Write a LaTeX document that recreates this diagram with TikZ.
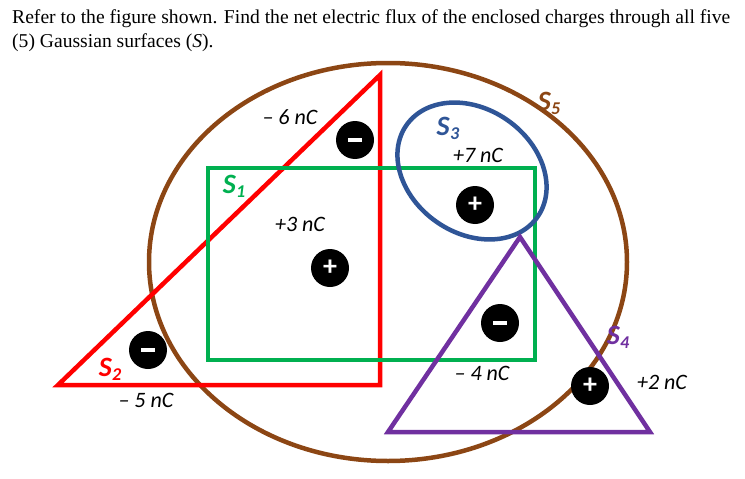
\documentclass[tikz,border=0pt]{standalone}
\usepackage{fontspec}
\setmainfont{Liberation Serif}
\newfontfamily\calfam{Carlito}
\newcommand{\slbl}[2]{\textit{#1}\raisebox{-0.3ex}{\fontsize{18}{18}\selectfont\textit{#2}}}
\begin{document}
\begin{tikzpicture}[x=1pt,y=-1pt,
 chg/.style={circle,fill=black,minimum size=38pt,inner sep=0pt,text=white,font=\calfam\bfseries\fontsize{28}{28}\selectfont},
 lab/.style={font=\calfam\itshape\fontsize{22}{22}\selectfont},
 slab/.style={font=\calfam\bfseries\fontsize{28}{28}\selectfont},
 wall/.style={line width=4.5pt}]
\useasboundingbox (0,0) rectangle (745,479);
\definecolor{brn}{RGB}{140,70,20}
\definecolor{grn}{RGB}{0,176,80}
\definecolor{blu}{RGB}{47,85,151}
\definecolor{prp}{RGB}{112,48,160}
\node[anchor=west,inner sep=0pt,font=\fontsize{19.6}{19.6}\selectfont] (t1) at (12,19) {Refer to the figure shown. Find the net electric flux of the enclosed charges through all five};
\node[anchor=west,inner sep=0pt,font=\fontsize{19.6}{19.6}\selectfont] (t2) at (12,43) {(5) Gaussian surfaces (\textit{S}).};
\draw[wall,brn] (388,262) ellipse [x radius=239, y radius=199];
\draw[wall,red] (380,75) -- (380,385) -- (58,385) -- cycle;
\draw[wall,grn] (208,168) rectangle (535,360);
\draw[wall,blu,rotate around={-35:(472,171)}] (472,171) ellipse [x radius=80, y radius=62];
\draw[wall,prp] (520,237) -- (650,432) -- (388,432) -- cycle;
\node[chg] (q1) at (355,140) {\rule{14pt}{3.5pt}};
\node[chg] (q2) at (475,205) {+};
\node[chg] (q3) at (330,268) {+};
\node[chg] (q4) at (500,323) {\rule{14pt}{3.5pt}};
\node[chg] (q5) at (148,350) {\rule{14pt}{3.5pt}};
\node[chg] (q6) at (590,386) {+};
\node[lab] (l1) at (290,117) {– 6 nC};
\node[lab] (l2) at (478,155) {+7 nC};
\node[lab] (l3) at (300,224) {+3 nC};
\node[lab] (l4) at (482,373) {– 4 nC};
\node[lab] (l5) at (146,400) {– 5 nC};
\node[lab] (l6) at (662,382) {+2 nC};
\node[slab,text=grn] (s1) at (234,186) {\slbl{S}{1}};
\node[slab,text=red] (s2) at (110,369) {\slbl{S}{2}};
\node[slab,text=blu] (s3) at (448,128) {\slbl{S}{3}};
\node[slab,text=prp] (s4) at (618,337) {\slbl{S}{4}};
\node[slab,text=brn] (s5) at (549,103) {\slbl{S}{5}};
\end{tikzpicture}
\end{document}
